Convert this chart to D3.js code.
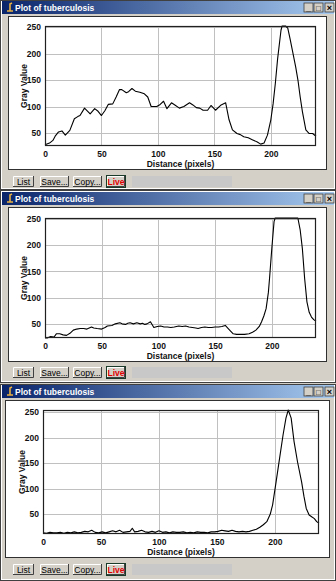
<!DOCTYPE html>
<html><head><meta charset="utf-8">
<script src="https://cdn.jsdelivr.net/npm/d3@7"></script>
<style>
html,body{margin:0;padding:0;background:#d4d0c8;}
svg{display:block;}
text{font-family:"Liberation Sans",Arial,sans-serif;}
</style></head>
<body>
<svg id="c" width="336" height="581"></svg>
<script>
// ---- Data ----
const title = "Plot of tuberculosis";
const xLabel = "Distance (pixels)";
const yLabel = "Gray Value";
const xTicks = [0, 50, 100, 150, 200];
const yTicks = [50, 100, 150, 200, 250];
const buttonLabels = ["List", "Save...", "Copy...", "Live"];

const p1X = [0,4,7,9,12,15,18,22,26,29,31,35,40,44,47,50,53,56,60,63,66,68,72,74,77,80,84,88,91,94,99,102,105,108,112,115,119,123,128,131,134,137,140,144,147,151,156,160,163,166,170,173,176,180,184,188,191,194,197,200,202,204,206,209,210,213,215,217,219,222,224,226,228,231,234,237,240];
const p1Y = [28,31,36,44,52,54,46,55,77,81,83,97,86,96,91,83,92,104,105,118,132,132,126,128,134,129,127,124,118,100,100,104,110,96,107,103,97,100,107,103,98,97,93,93,102,93,103,107,75,56,49,47,43,41,37,33,29,31,46,75,105,144,190,244,252,252,248,228,207,175,150,118,90,56,49,49,44];

const p2X = [0,2,5,8,10,13,16,19,22,25,28,31,34,37,41,43,46,50,53,55,59,62,66,68,71,73,75,78,81,84,86,88,90,93,96,99,102,105,108,111,114,118,121,124,127,130,133,135,138,141,144,147,150,153,156,159,162,166,169,172,176,180,183,186,189,191,193,195,197,198,200,202,203,223,225,227,229,231,233,235,237,239];
const p2Y = [23,23,26,25,31,31,29,28,32,38,40,41,41,40,44,42,41,40,43,46,47,50,52,50,49,51,52,50,52,50,51,49,50,54,43,45,46,44,44,43,44,46,45,46,44,43,42,41,43,44,43,43,44,44,45,47,40,31,30,30,30,31,34,38,45,54,65,79,110,136,193,245,252,252,230,193,136,92,72,63,58,55];

const p3X = [0,3,6,9,12,15,18,21,24,27,30,33,36,39,42,45,48,51,54,57,60,63,66,69,72,75,77,79,82,85,88,91,94,97,100,103,106,109,112,115,118,121,124,127,130,133,136,139,142,145,148,151,154,157,160,163,166,169,172,175,178,181,184,187,190,193,196,198,201,204,207,209.5,211.5,214,216.5,219.5,223,225,227,229.5,232,234,236,238];
const p3Y = [13,12,14,13,13,14,12,14,13,15,13,14,16,15,18,14,13,15,13,15,17,15,18,14,15,16,22,15,16,18,15,14,16,14,17,14,15,13,15,14,14,15,13,14,13,15,14,14,13,15,15,16,18,17,16,18,16,15,16,15,16,18,20,24,29,35,50,68,113,159,205,238,254,238,192,152,113,85,61,48,44,41,35,32];

const xDomains = [[0,240],[0,239],[0,238]];
const yDomains = [[25.5,252],[23,252],[10.8,254]];

// ---- Layout ----
const panels = [
  {win:[0,0,336,190], bar:[2,1,332,13], canvas:[8,16,319,154], frame:[45,26,316,146], btnY:176, X:p1X, Y:p1Y},
  {win:[0,190,336,193], bar:[2,192,332,13], canvas:[8,207,319,155], frame:[45,218,316,338], btnY:367, X:p2X, Y:p2Y},
  {win:[0,384,336,197], bar:[2,385,332,13], canvas:[5,400,325,158], frame:[43,410,319,534], btnY:564, X:p3X, Y:p3Y}
];

const svg = d3.select("#c");
const defs = svg.append("defs");
const grad = defs.append("linearGradient").attr("id","tb").attr("x1","0").attr("x2","1");
grad.append("stop").attr("offset","0").attr("stop-color","#0a246a");
grad.append("stop").attr("offset","1").attr("stop-color","#a6caf0");

panels.forEach((p, i) => {
  const g = svg.append("g");
  const [wx, wy, ww, wh] = p.win;
  // window frame
  g.append("rect").attr("x",wx+0.5).attr("y",wy+0.5).attr("width",ww-1).attr("height",wh-1)
    .attr("fill","#d4d0c8").attr("stroke","#404040");
  g.append("rect").attr("x",wx+1.5).attr("y",wy+1.5).attr("width",ww-3).attr("height",wh-3)
    .attr("fill","none").attr("stroke","#ffffff");
  // title bar
  const [bx, by, bw, bh] = p.bar;
  g.append("rect").attr("x",bx).attr("y",by).attr("width",bw).attr("height",bh).attr("fill","url(#tb)");
  // icon
  g.append("path").attr("d",`M${bx+5},${by+10} h6 M${bx+8},${by+10} v-7 l2,-1`)
    .attr("stroke","#e8b040").attr("stroke-width",1.6).attr("fill","none");
  g.append("text").attr("x",bx+13).attr("y",by+9.5).attr("fill","#fff")
    .attr("font-size","8.5px").attr("font-weight","bold").text(title);
  // window buttons
  const glyph = ["_","□","×"];
  [0,1,2].forEach(k => {
    const x0 = bx + bw - 30 + k*10 - (k===2?-1:0);
    g.append("rect").attr("x",x0).attr("y",by+2).attr("width",9).attr("height",9)
      .attr("fill","#d4d0c8").attr("stroke","#404040").attr("stroke-width",0.8);
    g.append("text").attr("x",x0+4.5).attr("y",by+9.5).attr("text-anchor","middle")
      .attr("font-size", k===1?"8px":"9px").attr("font-weight","bold").attr("fill","#000").text(glyph[k]);
  });
  // canvas
  const [cx, cy, cw, ch] = p.canvas;
  g.append("rect").attr("x",cx+0.5).attr("y",cy+0.5).attr("width",cw-1).attr("height",ch-1)
    .attr("fill","#ffffff").attr("stroke","#303030");
  // scales
  const [fl, ft, fr, fb] = p.frame;
  const x = d3.scaleLinear().domain(xDomains[i]).range([fl, fr]);
  const y = d3.scaleLinear().domain(yDomains[i]).range([fb, ft]);
  // grid
  const grid = g.append("g").attr("stroke","#c0c0c0").attr("stroke-width",1);
  xTicks.filter(t => t > 0).forEach(t => {
    grid.append("line").attr("x1",Math.round(x(t))+0.5).attr("x2",Math.round(x(t))+0.5).attr("y1",ft).attr("y2",fb);
  });
  yTicks.forEach(t => {
    grid.append("line").attr("y1",Math.round(y(t))+0.5).attr("y2",Math.round(y(t))+0.5).attr("x1",fl).attr("x2",fr);
  });
  // axes (ticks labels only, via d3 axes)
  const xAxis = d3.axisBottom(x).tickValues(xTicks).tickSize(0).tickPadding(5).tickFormat(d3.format("d"));
  const yAxis = d3.axisLeft(y).tickValues(yTicks).tickSize(0).tickPadding(4).tickFormat(d3.format("d"));
  const ax = g.append("g").attr("transform",`translate(0,${fb})`).call(xAxis);
  const ay = g.append("g").attr("transform",`translate(${fl},0)`).call(yAxis);
  [ax, ay].forEach(a => {
    a.select(".domain").remove();
    a.selectAll("text").attr("font-size","8.5px").attr("font-weight","bold").attr("fill","#111")
      .style("font-family","'Liberation Sans',Arial,sans-serif");
  });
  // line
  const data = p.X.map((v, k) => [v, p.Y[k]]);
  g.append("path").datum(data)
    .attr("d", d3.line().x(d => x(d[0])).y(d => y(Math.min(d[1], yDomains[i][1]))))
    .attr("fill","none").attr("stroke","#000").attr("stroke-width",1.1).attr("stroke-linejoin","round");
  // frame
  g.append("rect").attr("x",fl+0.5).attr("y",ft+0.5).attr("width",fr-fl-1).attr("height",fb-ft-1)
    .attr("fill","none").attr("stroke","#202020").attr("stroke-width",1.2);
  // axis titles
  g.append("text").attr("x",(fl+fr)/2).attr("y",fb+21).attr("text-anchor","middle")
    .attr("font-size","8.5px").attr("font-weight","bold").attr("fill","#111").text(xLabel);
  g.append("text").attr("transform",`translate(${fl-18},${(ft+fb)/2}) rotate(-90)`).attr("text-anchor","middle")
    .attr("font-size","8.5px").attr("font-weight","bold").attr("fill","#111").text(yLabel);
  // buttons
  const bxs = [[13,21],[40,29],[73,29],[107,18]];
  buttonLabels.forEach((lab, k) => {
    const [b0, bwid] = bxs[k];
    const by0 = p.btnY, bh0 = 11;
    if (k === 3) {
      g.append("rect").attr("x",b0-0.5).attr("y",by0-0.5).attr("width",bwid+1).attr("height",bh0+1)
        .attr("fill","none").attr("stroke","#1a3a2a").attr("stroke-width",1);
    }
    g.append("rect").attr("x",b0).attr("y",by0).attr("width",bwid).attr("height",bh0).attr("fill","#d4d0c8");
    g.append("path").attr("d",`M${b0+0.5},${by0+bh0} V${by0+0.5} H${b0+bwid}`).attr("stroke","#ffffff").attr("fill","none");
    g.append("path").attr("d",`M${b0},${by0+bh0-0.5} H${b0+bwid-0.5} V${by0}`).attr("stroke","#404040").attr("fill","none");
    g.append("text").attr("x",b0+bwid/2).attr("y",by0+8.5).attr("text-anchor","middle")
      .attr("font-size","8.5px").attr("font-weight", k===3?"bold":"normal")
      .attr("fill", k===3?"#e00000":"#000").text(lab);
  });
  g.append("rect").attr("x",132).attr("y",p.btnY).attr("width",100).attr("height",11).attr("fill","#c8c8c8");
});
</script>
</body></html>
